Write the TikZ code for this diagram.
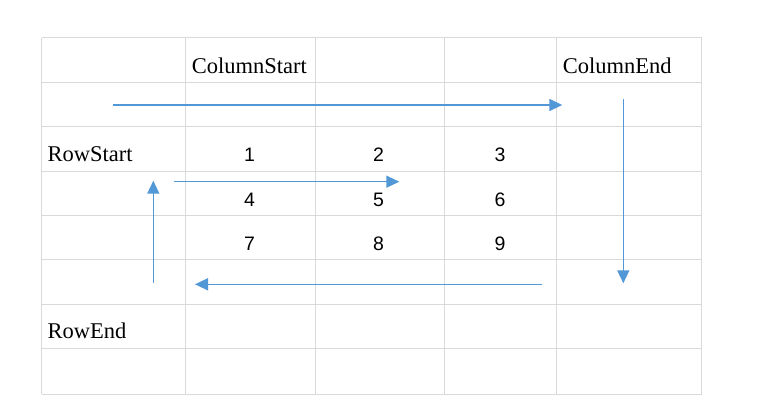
\documentclass[tikz,border=0pt]{standalone}
\usepackage{fontspec}
\setmainfont{Liberation Serif}
\newfontfamily\digitfont{Liberation Sans}
\usetikzlibrary{arrows.meta}
\definecolor{gridgray}{HTML}{D9D9D9}
\definecolor{arrowblue}{HTML}{5297D6}
\tikzset{
  gridline/.style={draw=gridgray, line width=1pt},
  label/.style={inner sep=0pt, anchor=base west, font=\fontsize{22.5}{24}\selectfont, text=black},
  digit/.style={inner sep=0pt, anchor=base, font=\digitfont\fontsize{19.5}{21}\selectfont, text=black},
  flow/.style={draw=arrowblue, line width=1.5pt, -{Triangle[length=13pt,width=12pt]}}
}
\begin{document}
\begin{tikzpicture}[x=1pt,y=-1pt]
\useasboundingbox (0,0) rectangle (768,415);
% grid
\foreach \x in {41.5,185.7,315,444,556.7,701.5}
  \draw[gridline] (\x,37.5) -- (\x,394);
\foreach \y in {37.5,82,126.5,171,215.3,259.7,304,348.3,394}
  \draw[gridline] (41.5,\y) -- (701.5,\y);
% labels
\node[label] (cs) at (191.7,73.3) {ColumnStart};
\node[label] (ce) at (562.7,73.3) {ColumnEnd};
\node[label] (rs) at (47.3,161) {RowStart};
\node[label] (re) at (47.3,338.3) {RowEnd};
% digits
\node[digit] (n1) at (249.5,161.7) {1};
\node[digit] (n2) at (378.5,161.7) {2};
\node[digit] (n3) at (500,161.7) {3};
\node[digit] (n4) at (249.5,206) {4};
\node[digit] (n5) at (378.5,206) {5};
\node[digit] (n6) at (500,206) {6};
\node[digit] (n7) at (249.5,250) {7};
\node[digit] (n8) at (378.5,250) {8};
\node[digit] (n9) at (500,250) {9};
% arrow end points
\coordinate (a1s) at (112.7,105);
\coordinate (a1e) at (562.3,105);
\coordinate (a2s) at (623.3,99.3);
\coordinate (a2e) at (623.3,283.3);
\coordinate (a3s) at (542.3,284.3);
\coordinate (a3e) at (195,284.3);
\coordinate (a4s) at (153.3,282.7);
\coordinate (a4e) at (153.3,180.7);
\coordinate (a5s) at (174,181.7);
\coordinate (a5e) at (399.3,181.7);
% arrows
\draw[flow] (a1s) -- (a1e);
\draw[flow] (a2s) -- (a2e);
\draw[flow] (a3s) -- (a3e);
\draw[flow] (a4s) -- (a4e);
\draw[flow] (a5s) -- (a5e);
\end{tikzpicture}
\end{document}
